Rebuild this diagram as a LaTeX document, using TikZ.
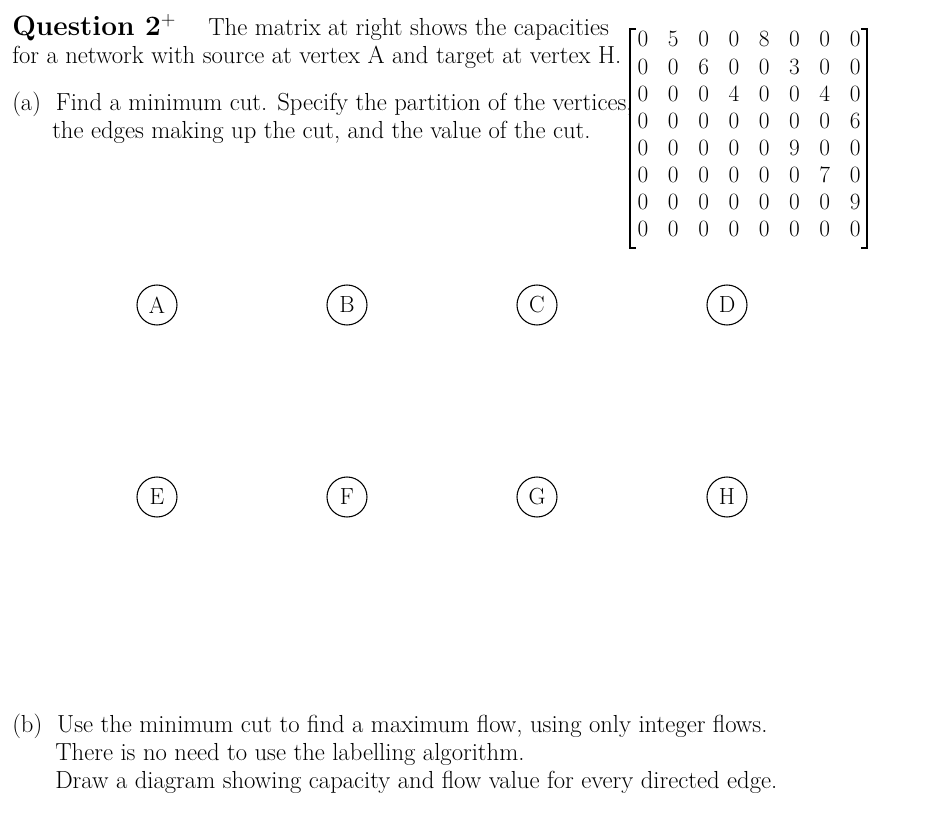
\documentclass[tikz,border=0pt]{standalone}
\begin{document}
\begin{tikzpicture}[x=0.75pt,y=-0.75pt,
  txt/.style={anchor=base west,inner sep=0pt,font=\fontsize{18.5}{21}\selectfont},
  ent/.style={anchor=base,inner sep=0pt,font=\fontsize{17.5}{20}\selectfont},
  vert/.style={circle,draw,line width=0.8pt,minimum size=40pt*0.75,inner sep=0pt,font=\fontsize{17.5}{20}\selectfont}]
\useasboundingbox (0,0) rectangle (929,813);
\node[txt] (q) at (12,36) {\fontsize{21}{24}\selectfont\bfseries Question 2$^{+}$};
\node[txt] (l1) at (208,36) {The matrix at right shows the capacities};
\node[txt] (l2) at (12,64) {for a network with source at vertex A and target at vertex H.};
\node[txt] (a1) at (12,111) {(a)\ \ Find a minimum cut. Specify the partition of the vertices,};
\node[txt] (a2) at (52,139) {the edges making up the cut, and the value of the cut.};
% matrix
\foreach \r [count=\i] in {{0,5,0,0,8,0,0,0},{0,0,6,0,0,3,0,0},{0,0,0,4,0,0,4,0},{0,0,0,0,0,0,0,6},{0,0,0,0,0,9,0,0},{0,0,0,0,0,0,7,0},{0,0,0,0,0,0,0,9},{0,0,0,0,0,0,0,0}}{
  \foreach \v [count=\j] in \r {
    \node[ent] (m\i\j) at ({643+(\j-1)*30.3},{47+(\i-1)*27.1}) {\v};
  }
}
\draw[line width=0.8pt] (636,29) -- (630,29) -- (630,248) -- (636,248);
\draw[line width=0.8pt] (861,29) -- (867,29) -- (867,248) -- (861,248);
% vertices
\node[vert] (A) at (157,305) {A};
\node[vert] (B) at (347,305) {B};
\node[vert] (C) at (537,305) {C};
\node[vert] (D) at (727,305) {D};
\node[vert] (E) at (157,497) {E};
\node[vert] (F) at (347,497) {F};
\node[vert] (G) at (537,497) {G};
\node[vert] (H) at (727,497) {H};
\node[txt] (b1) at (12,732) {(b)\ \ Use the minimum cut to find a maximum flow, using only integer flows.};
\node[txt] (b2) at (55,760) {There is no need to use the labelling algorithm.};
\node[txt] (b3) at (55,788) {Draw a diagram showing capacity and flow value for every directed edge.};
\end{tikzpicture}
\end{document}
